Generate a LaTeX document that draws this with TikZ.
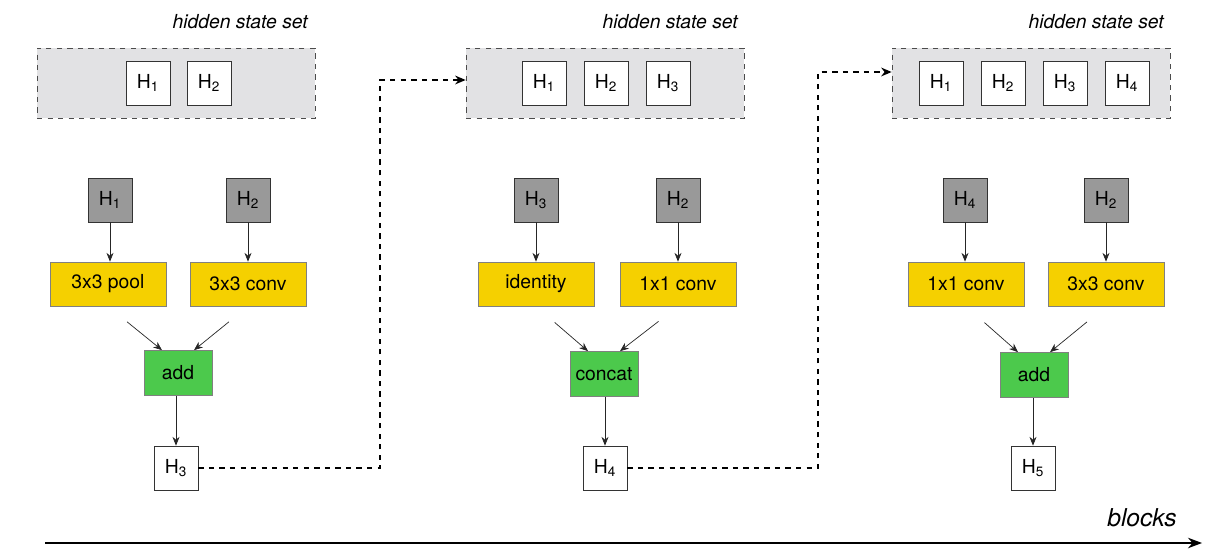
\documentclass[tikz,border=0pt]{standalone}
\usepackage{fontspec}
\setmainfont{TeX Gyre Heros}
\usetikzlibrary{arrows.meta,calc}
\definecolor{opyellow}{HTML}{F5D000}
\definecolor{opgreen}{HTML}{4CC94C}
\definecolor{hgray}{HTML}{999999}
\definecolor{setgray}{HTML}{E2E2E4}
\begin{document}
\begin{tikzpicture}[x=0.02cm,y=-0.02cm,
  every node/.style={font=\fontsize{11}{13}\selectfont},
  hbox/.style={draw=black!80,fill=white,minimum width=0.88cm,minimum height=0.88cm,inner sep=0pt},
  hin/.style={hbox,fill=hgray},
  op/.style={draw=black!50,fill=opyellow,minimum width=2.32cm,minimum height=0.88cm,inner sep=0pt},
  comb/.style={draw=black!50,fill=opgreen,minimum width=1.36cm,minimum height=0.9cm,inner sep=0pt},
  set/.style={draw=black!70,dashed,fill=setgray,minimum width=5.56cm,minimum height=1.4cm},
  lbl/.style={font=\itshape\fontsize{11}{13}\selectfont,anchor=east},
  arr/.style={-{Stealth[length=5pt,width=4pt]},black!85},
  jump/.style={-{Stealth[length=6pt,width=5pt]},dashed,thick}]
\useasboundingbox (0,0) rectangle (1220,560);

% block 1
\node[lbl] (l1) at (314,22) {hidden state set};
\node[set] (s1) at (176,83) {};
\node[hbox] (s1h1) at (148,83) {H\textsubscript{1}};
\node[hbox] (s1h2) at (209,83) {H\textsubscript{2}};
\node[hin] (a1) at (110,200) {H\textsubscript{1}};
\node[hin] (a2) at (248,200) {H\textsubscript{2}};
\node[op] (o1) at (108,284) {3x3 pool};
\node[op] (o2) at (248,284) {3x3 conv};
\node[comb] (c1) at (178,373) {add};
\node[hbox] (r1) at (176,468) {H\textsubscript{3}};
\draw[arr] (a1.south) -- (a1.south |- o1.north);
\draw[arr] (a2.south) -- (a2.south |- o2.north);
\draw[arr,shorten <=14pt] (o1.south) -- ($(c1.north)+(-16,0)$);
\draw[arr,shorten <=14pt] (o2.south) -- ($(c1.north)+(16,0)$);
\draw[arr] (r1.north |- c1.south) -- (r1.north);

% block 2
\node[lbl] (l2) at (744,22) {hidden state set};
\node[set] (s2) at (605,83) {};
\node[hbox] (s2h1) at (544,83) {H\textsubscript{1}};
\node[hbox] (s2h2) at (606,83) {H\textsubscript{2}};
\node[hbox] (s2h3) at (668,83) {H\textsubscript{3}};
\node[hin] (b1) at (536,200) {H\textsubscript{3}};
\node[hin] (b2) at (678,200) {H\textsubscript{2}};
\node[op] (o3) at (536,284) {identity};
\node[op] (o4) at (678,284) {1x1 conv};
\node[comb] (c2) at (604,374) {concat};
\node[hbox] (r2) at (605,468) {H\textsubscript{4}};
\draw[arr] (b1.south) -- (b1.south |- o3.north);
\draw[arr] (b2.south) -- (b2.south |- o4.north);
\draw[arr,shorten <=14pt] (o3.south) -- ($(c2.north)+(-16,0)$);
\draw[arr,shorten <=14pt] (o4.south) -- ($(c2.north)+(16,0)$);
\draw[arr] (r2.north |- c2.south) -- (r2.north);

% block 3
\node[lbl] (l3) at (1170,22) {hidden state set};
\node[set] (s3) at (1031,83) {};
\node[hbox] (s3h1) at (941,83) {H\textsubscript{1}};
\node[hbox] (s3h2) at (1003,83) {H\textsubscript{2}};
\node[hbox] (s3h3) at (1065,83) {H\textsubscript{3}};
\node[hbox] (s3h4) at (1127,83) {H\textsubscript{4}};
\node[hin] (d1) at (965,200) {H\textsubscript{4}};
\node[hin] (d2) at (1106,200) {H\textsubscript{2}};
\node[op] (o5) at (966,284) {1x1 conv};
\node[op] (o6) at (1106,284) {3x3 conv};
\node[comb] (c3) at (1034,375) {add};
\node[hbox] (r3) at (1033,468) {H\textsubscript{5}};
\draw[arr] (d1.south) -- (d1.south |- o5.north);
\draw[arr] (d2.south) -- (d2.south |- o6.north);
\draw[arr,shorten <=14pt] (o5.south) -- ($(c3.north)+(-16,0)$);
\draw[arr,shorten <=14pt] (o6.south) -- ($(c3.north)+(16,0)$);
\draw[arr] (r3.north |- c3.south) -- (r3.north);

% transitions
\draw[jump] (r1.east) -- (380,468) -- (380,80) -- (s2.west |- 0,80);
\draw[jump] (r2.east) -- (818,468) -- (818,72) -- (s3.west |- 0,72);

% time axis
\node[font=\itshape\fontsize{14}{16}\selectfont] (bl) at (1142,518) {blocks};
\coordinate (t0) at (45,543);
\coordinate (t1) at (1202,543);
\draw[-{Stealth[length=8pt,width=6pt]},thick] (t0) -- (t1);
\end{tikzpicture}
\end{document}
